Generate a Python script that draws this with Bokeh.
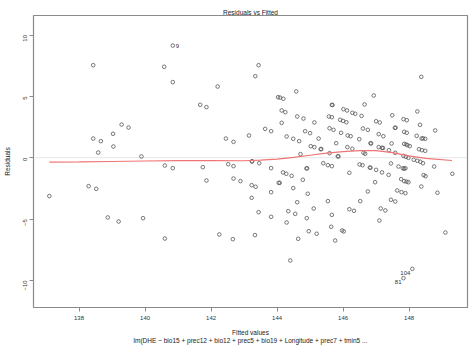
from bokeh.plotting import figure
from bokeh.models import Range1d, FixedTicker, ColumnDataSource
from bokeh.embed import file_html
from bokeh.resources import INLINE
from bokeh.core.properties import value
import math

# Fitted values / residuals
fitted = [
    137.10, 138.43, 138.43, 138.66, 138.58, 139.03, 139.04, 139.29, 139.50, 139.89,
    138.29, 138.52, 138.87, 139.20, 139.94, 140.84, 140.58, 140.84, 142.20, 141.67,
    141.86, 143.44, 143.34, 144.03, 144.09, 144.19, 144.58, 144.14, 144.25, 144.61,
    144.14, 143.64, 143.82, 143.15, 142.45, 142.68, 144.29, 144.49, 144.67, 144.71,
    143.24, 143.24, 140.60, 140.84, 141.75, 142.52, 142.68, 143.46, 143.82, 144.18,
    144.28, 144.44, 141.86, 142.68, 142.89, 144.05, 144.08, 143.23, 143.35, 144.49,
    143.82, 143.23, 144.61, 143.44, 144.34, 144.55, 143.82, 144.29, 142.25, 140.60,
    142.66, 143.33, 144.64, 144.40,
    148.37, 146.93, 145.66, 145.68, 146.65, 146.01, 146.12, 146.28, 146.37, 148.25,
    144.80, 145.57, 145.66, 146.56, 147.49, 145.91, 146.00, 146.10, 145.13, 147.00,
    147.11, 147.83, 147.93, 148.33, 145.59, 145.71, 146.60, 146.75, 147.57, 147.59,
    148.79, 144.85, 145.00, 145.94, 146.14, 146.23, 147.08, 147.22, 147.85, 147.93,
    148.23, 148.38, 148.49, 148.42, 145.26, 145.79, 146.49, 146.83, 146.85, 147.47,
    147.85, 147.91, 148.02, 147.95, 145.02, 145.13, 145.32, 145.34, 146.13, 146.28,
    147.08, 147.18, 147.21, 147.39, 148.30, 148.39, 148.49, 145.59, 146.62, 146.67,
    147.58, 145.84, 145.86, 147.83, 147.90, 147.98, 148.14, 148.25, 148.34, 148.42,
    144.89, 144.91, 145.40, 145.54, 145.66, 146.50, 146.59, 146.81, 146.83, 147.00,
    147.45, 147.68, 147.81, 147.89, 147.85, 148.76,
    146.19, 147.18, 147.38, 144.78, 148.44, 148.50, 149.31, 146.97, 147.76, 147.85,
    147.98, 147.92, 148.37, 144.93, 146.75, 147.64, 147.77, 147.89, 148.86, 145.54,
    146.52, 147.45, 147.58, 145.11, 146.19, 146.33, 147.14, 147.28, 145.66, 144.90,
    147.10, 145.64, 144.96, 145.20, 145.97, 146.02, 145.76, 149.10, 148.10, 147.83,
]
residuals = [
    -3.13, 7.54, 1.56, 1.35, 0.42, 1.95, 0.91, 2.70, 2.46, 0.10,
    -2.32, -2.54, -4.87, -5.20, -4.93, 9.14, 7.41, 6.16, 5.80, 4.31,
    4.12, 7.54, 6.64, 4.93, 4.90, 4.80, 5.40, 3.85, 3.71, 3.36,
    2.84, 2.35, 2.16, 1.81, 1.56, 1.29, 1.73, 1.54, 1.35, 0.29,
    -0.29, -0.31, -0.64, -0.85, -0.77, -0.53, -0.69, -0.45, -0.85, -1.20,
    -1.31, -1.48, -1.86, -1.70, -1.91, -2.05, -2.05, -2.24, -2.37, -2.48,
    -2.81, -3.27, -3.63, -4.44, -4.36, -4.58, -4.82, -5.28, -6.26, -6.59,
    -6.64, -6.31, -6.61, -8.38,
    6.59, 5.07, 4.31, 4.29, 4.34, 3.95, 3.85, 3.66, 3.58, 3.77,
    3.19, 3.36, 3.30, 3.41, 3.46, 3.09, 3.00, 2.89, 2.87, 2.97,
    2.87, 3.14, 3.06, 2.68, 2.40, 2.27, 2.38, 2.27, 2.43, 2.45,
    2.22, 2.16, 2.00, 2.03, 1.81, 1.75, 1.92, 1.75, 2.11, 2.03,
    1.78, 1.56, 1.54, 1.58, 1.56, 1.18, 1.51, 1.18, 1.16, 1.16,
    1.13, 1.08, 0.94, 1.02, 0.94, 0.86, 0.69, 0.71, 0.86, 0.73,
    0.86, 0.81, 0.79, 0.61, 0.69, 0.61, 0.56, 0.37, 0.40, 0.32,
    0.40, 0.12, 0.10, 0.15, 0.07, -0.01, -0.17, -0.25, -0.33, -0.45,
    -0.88, -0.86, -0.45, -0.61, -0.69, -0.55, -0.61, -0.80, -0.82, -0.99,
    -0.47, -0.72, -0.86, -0.86, -0.90, -0.72,
    -1.23, -1.20, -1.40, -1.80, -1.42, -1.51, -1.31, -2.00, -1.75, -1.91,
    -2.00, -1.95, -2.35, -2.94, -2.75, -2.67, -2.81, -2.89, -2.86, -3.54,
    -3.54, -3.43, -3.57, -4.14, -4.20, -4.33, -4.14, -4.30, -4.66, -4.93,
    -5.12, -5.63, -5.99, -6.20, -5.93, -6.01, -6.75, -6.10, -9.06, -9.82,
]

# labelled observations
label_text = ["9", "104", "81"]
label_x = [140.84, 148.10, 147.83]
label_y = [9.14, -9.06, -9.82]

# lowess smooth
smooth_x = [137.1, 138.0, 139.0, 140.0, 141.0, 142.0, 143.0, 143.5, 144.0, 144.5,
            145.0, 145.5, 146.0, 146.5, 147.0, 147.5, 148.0, 148.5, 149.3]
smooth_y = [-0.36, -0.34, -0.31, -0.27, -0.24, -0.24, -0.25, -0.20, -0.12, 0.02,
            0.20, 0.37, 0.50, 0.58, 0.57, 0.42, 0.15, -0.06, -0.23]

x_ticks = [138, 140, 142, 144, 146, 148]
y_ticks = [-10, -5, 0, 5, 10]

FONT = "Liberation Sans"

p = figure(width=474, height=351, output_backend="svg", toolbar_location=None,
           x_range=Range1d(136.62, 149.77), y_range=Range1d(-12.21, 11.59),
           min_border_left=31, min_border_right=7, min_border_top=15, min_border_bottom=44,
           title="Residuals vs Fitted")
p.title.align = "center"
p.title.text_font = FONT
p.title.text_font_size = "6.5px"
p.title.text_font_style = "normal"
p.title.text_color = "#222222"
p.title.standoff = 0
p.title.offset = 0

p.grid.visible = False
p.outline_line_color = "#8a8a8a"
p.outline_line_width = 1.2
p.background_fill_color = "white"
p.border_fill_color = "white"

for ax in (p.xaxis[0], p.yaxis[0]):
    ax.axis_line_color = None
    ax.major_tick_out = 4
    ax.major_tick_in = 0
    ax.minor_tick_line_color = None
    ax.major_tick_line_color = "#8a8a8a"
    ax.major_label_text_font = FONT
    ax.major_label_text_font_size = "6px"
    ax.major_label_text_color = "#333333"
    ax.axis_label_text_font = FONT
    ax.axis_label_text_font_size = "6.5px"
    ax.axis_label_text_font_style = "normal"
    ax.axis_label_text_color = "#222222"

p.xaxis.ticker = FixedTicker(ticks=x_ticks)
p.yaxis.ticker = FixedTicker(ticks=y_ticks)
p.yaxis.major_label_orientation = math.pi / 2
p.xaxis.major_label_standoff = 4
p.yaxis.major_label_standoff = 4
p.xaxis.axis_label_standoff = 6
p.yaxis.axis_label_standoff = 8
p.xaxis.axis_label = ("Fitted values\n"
                      "lm(DHE ~ bio15 + prec12 + bio12 + prec5 + bio19 + Longitude + prec7 + tmin5 ...")
p.yaxis.axis_label = "Residuals"

# dotted zero line
p.line(x=[136.62, 149.77], y=[0, 0], line_color="#d0d0d0", line_dash="1 1", line_width=1)

src = ColumnDataSource(dict(x=fitted, y=residuals))
p.scatter("x", "y", source=src, marker="circle", size=3.6, fill_color=None,
          line_color="#555555", line_width=0.8)

p.line(x=smooth_x, y=smooth_y, line_color="#f07474", line_width=1.2)

lsrc = ColumnDataSource(dict(x=label_x, y=label_y, t=label_text,
                             a=["left", "right", "right"],
                             xo=[3, -2, -2], yo=[0, 4, 4]))
p.text("x", "y", text="t", source=lsrc, text_align="a", x_offset="xo", y_offset="yo",
       text_baseline="middle", text_font=value(FONT), text_font_size="6px",
       text_color="#333333")

open("out.html", "w").write(file_html(p, INLINE))
